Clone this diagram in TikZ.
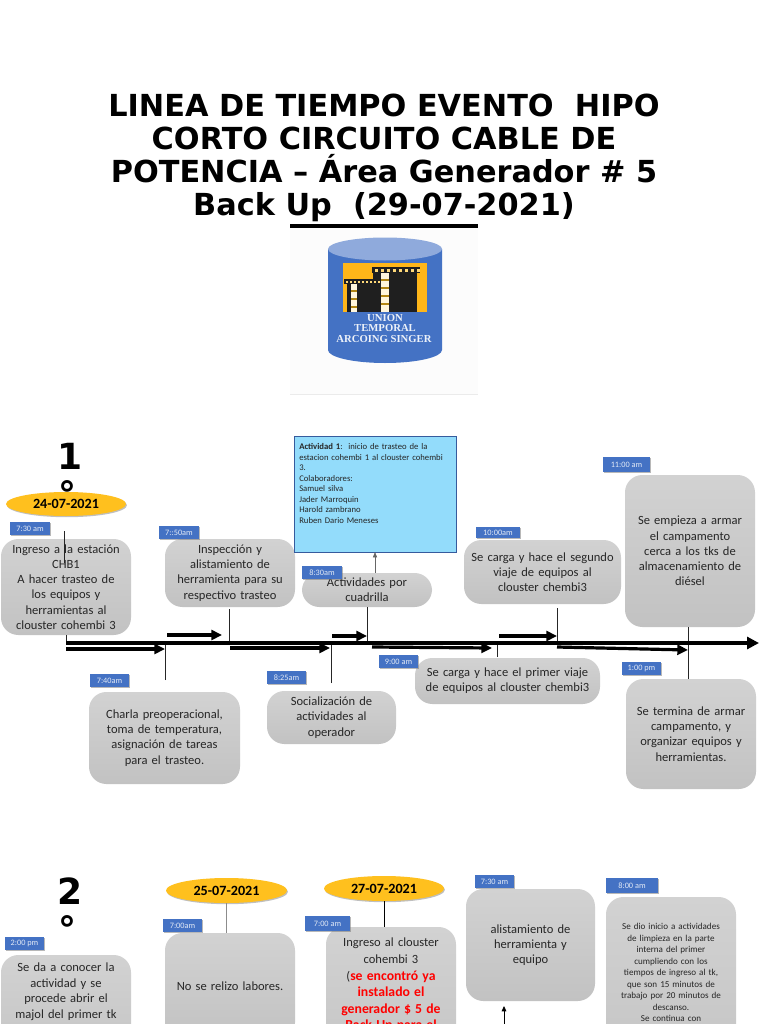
\documentclass[tikz,border=0pt]{standalone}
\usepackage{fontspec}
\setmainfont{Carlito}
\newfontfamily\titlefont{DejaVu Sans}
\newfontfamily\logofont{Liberation Serif}
\usetikzlibrary{arrows.meta,shadows,shapes.geometric}
\definecolor{tagblue}{HTML}{4472C4}
\definecolor{gtop}{HTML}{D2D2D2}
\definecolor{gbot}{HTML}{C2C2C2}
\definecolor{gold}{HTML}{FFC01E}
\definecolor{cyl}{HTML}{4472C4}
\definecolor{cyltop}{HTML}{8FAADC}
\definecolor{ink}{HTML}{262626}
\definecolor{skyfill}{HTML}{93DCFB}
\tikzset{
  gbox/.style={rounded corners=13pt,top color=gtop,bottom color=gbot,draw=none,align=center,text=ink,
    font=\fontsize{9.4}{11.4}\selectfont,inner sep=0pt},
  tag/.style={fill=tagblue,draw=none,text=white!85!tagblue,font=\fontsize{6.2}{7}\selectfont,inner sep=0pt,
    drop shadow={shadow xshift=.7pt,shadow yshift=-.7pt,fill=black!55,opacity=.5}},
  dateell/.style={ellipse,fill=gold,draw=none,font=\fontsize{10.6}{12}\selectfont\bfseries,inner sep=0pt,
    drop shadow={shadow xshift=.7pt,shadow yshift=-.9pt,fill=black!55,opacity=.45}},
  ttl/.style={anchor=base,font=\titlefont\bfseries\fontsize{22.75}{24}\selectfont,inner sep=0pt},
  num/.style={font=\titlefont\bfseries\fontsize{27}{28}\selectfont,inner sep=0pt},
  tick/.style={draw=black!85,line width=.7pt},
  axisline/.style={line width=2.6pt,-{Triangle[width=9pt,length=9pt]}},
  seg/.style={line width=2.4pt,-{Triangle[width=7.5pt,length=8pt]}},
  thinarrow/.style={draw=black!60,line width=.5pt,-{Triangle[width=3pt,length=4pt]}},
  logotxt/.style={font=\logofont\bfseries\fontsize{8}{9}\selectfont,text=white!90!cyl,inner sep=0pt},
}
\newcommand{\gb}[6]{\node[gbox,minimum width={(#4-#2)*0.75pt},minimum height={(#5-#3)*0.75pt},text width={(#4-#2-4)*0.75pt}] (#1) at ({(#2+#4)/2},{(#3+#5)/2}) {\raisebox{-1pt}{\parbox{\linewidth}{\centering #6}}};}
\newcommand{\tg}[6]{\node[tag,minimum width={(#4-#2)*0.75pt},minimum height={(#5-#3)*0.75pt}] (#1) at ({(#2+#4)/2},{(#3+#5)/2}) {#6};}
\newcommand{\dt}[6]{\node[dateell,minimum width={(#4-#2)*0.75pt},minimum height={(#5-#3)*0.75pt}] (#1) at ({(#2+#4)/2},{(#3+#5)/2}) {#6};}
\begin{document}
\begin{tikzpicture}[x=0.75pt,y=-0.75pt]
\useasboundingbox (0,0) rectangle (768,1024);
\clip (0,0) rectangle (768,1024);
\fill[white] (0,0) rectangle (768,1024);
% title
\node[ttl] (t1) at (384,116) {LINEA DE TIEMPO EVENTO\ \ HIPO};
\node[ttl] (t2) at (384,149) {CORTO CIRCUITO CABLE DE};
\node[ttl] (t3) at (384,182) {POTENCIA – Área Generador \# 5};
\node[ttl] (t4) at (384,215) {Back Up\ \ (29-07-2021)};
% logo
\fill[black!1] (290,228) rectangle (478,394);
\draw[black!8,line width=.6pt] (290,394.5) -- (478,394.5);
\draw[black,line width=2.4pt] (290,226) -- (478,226);
\fill[cyl] (328,249) -- (328,350) arc[start angle=180,end angle=0,x radius=57,y radius=13] -- (442,249) -- cycle;
\fill[cyltop] (385,249) ellipse [x radius=57,y radius=11.5];
\fill[gold!85!orange] (343,263) rectangle (427,312);
\fill[black!88] (373,273) rectangle (417,312);
\fill[black!88] (347,284) rectangle (380,312);
\fill[black!88] (372,267) rectangle (420,273);
\fill[black!88] (344,279) rectangle (380,284);
\fill[white!85!gold] (381,273) rectangle (389,312);
\fill[white!85!gold] (351,284) rectangle (357,312);
\foreach \yy in {279,287,295,303} {\fill[gold!70!black] (381,\yy) rectangle (389,\yy+1.5);}
\foreach \yy in {290,298,306} {\fill[gold!70!black] (351,\yy) rectangle (357,\yy+1.5);}
\foreach \xx in {375,381,...,417} {\fill[gold!60!white] (\xx,268.5) rectangle (\xx+3,271.5);}
\foreach \xx in {346,350,...,378} {\fill[gold!60!white] (\xx,280.5) rectangle (\xx+2,282.5);}
\node[logotxt] (lg1) at (385,318) {UNION};
\node[logotxt] (lg2) at (385,328.5) {TEMPORAL};
\node[logotxt] (lg3) at (384,339) {ARCOING SINGER};
% section 1 numbering
\node[num] (n1) at (70,456) {1};
\node[num] (n1d) at (67,494) {°};
% boxes
\gb{b1}{1}{539}{131}{635}{Ingreso a la estación\\CHB1\\A hacer trasteo de\\los equipos y\\herramientas al\\clouster cohembi 3}
\gb{b2}{165}{539}{295}{607}{Inspección y\\alistamiento de\\herramienta para su\\respectivo trasteo}
\gb{b3}{302}{573}{432}{607}{Actividades por\\cuadrilla}
\gb{b4}{464}{540}{621}{604}{Se carga y hace el segundo\\viaje de equipos al\\clouster chembi3}
\gb{b5}{625}{475}{755}{627}{Se empieza a armar\\el campamento\\cerca a los tks de\\almacenamiento de\\diésel}
\gb{b6}{89}{692}{240}{784}{Charla preoperacional,\\toma de temperatura,\\asignación de tareas\\para el trasteo.}
\gb{b7}{267}{691}{396}{744}{Socialización de\\actividades al\\operador}
\gb{b8}{415}{658}{600}{704}{Se carga y hace el primer viaje\\de equipos al clouster chembi3}
\gb{b9}{626}{679}{756}{789}{Se termina de armar\\campamento, y\\organizar equipos y\\herramientas.}
% info box
\node[rectangle,draw=tagblue!80!black,line width=.7pt,fill=skyfill,minimum width={162*0.75pt},minimum height={116*0.75pt},inner sep=0pt] (info) at (375,494) {};
\node[anchor=north west,inner sep=0pt,text width={156*0.75pt},align=left,text=ink,font=\fontsize{6.5}{7.85}\selectfont] (infot) at (299,443.5) {\textbf{Actividad 1}:\ \ inicio de trasteo de la\\estacion cohembi 1 al clouster cohembi\\3.\\Colaboradores:\\Samuel silva\\Jader Marroquin\\Harold zambrano\\Ruben Dario Meneses};
% tags
\tg{g1}{10}{522}{50}{535}{7:30 am}
\tg{g2}{159}{526}{199}{539}{7::50am}
\tg{g3}{302}{566}{342}{579}{8:30am}
\tg{g4}{476}{527}{520}{538}{10:00am}
\tg{g5}{603}{457}{650}{472}{11:00 am}
\tg{g6}{90}{674}{129}{687}{7:40am}
\tg{g7}{267}{671}{306}{684}{8:25am}
\tg{g8}{379}{655}{418}{668}{9:00 am}
\tg{g9}{622}{662}{661}{675}{1:00 pm}
\dt{d1}{6}{492}{126}{516}{24-07-2021}
% axis coordinates
\coordinate (a0) at (66,643);
\coordinate (a1) at (759,643);
\coordinate (u1) at (64,531); \coordinate (u1b) at (64,563);
\coordinate (c1) at (66,635);
\coordinate (c2) at (165,680); \coordinate (c3) at (229,609);
\coordinate (c4) at (331,683); \coordinate (c5) at (367,607);
\coordinate (c6) at (497,657); \coordinate (c7) at (557,608);
\coordinate (c8) at (688,627); \coordinate (c9) at (688,679);
% ticks
\draw[tick] (u1) -- (u1b);
\foreach \c in {c1,c2,c3,c4,c5,c6,c7,c8,c9} {\draw[tick] (\c) -- (\c |- a0);}
% arrows
\draw[axisline] (a0) -- (a1);
\coordinate (s1a) at (66,649); \coordinate (s1b) at (165,649);
\coordinate (s2a) at (167,635); \coordinate (s2b) at (222,635);
\coordinate (s3a) at (230,648); \coordinate (s3b) at (330,648);
\coordinate (s4a) at (332,636); \coordinate (s4b) at (367,636);
\coordinate (s5a) at (372,647); \coordinate (s5b) at (492,648);
\coordinate (s6a) at (499,636); \coordinate (s6b) at (557,636);
\coordinate (s7a) at (557,647); \coordinate (s7b) at (688,650);
\foreach \p/\q in {s1a/s1b,s2a/s2b,s3a/s3b,s4a/s4b,s5a/s5b,s6a/s6b,s7a/s7b} {\draw[seg] (\p) -- (\q);}
\coordinate (ar1) at (375,552);
\draw[thinarrow] (b3.north -| ar1) -- (ar1);
% section 2
\node[num] (n2) at (70,891) {2};
\node[num] (n2d) at (67,929) {°};
\dt{d2}{166}{878}{287}{903}{25-07-2021}
\dt{d3}{324}{876}{444}{901}{27-07-2021}
\gb{b10}{1}{955}{131}{1080}{}
\gb{b11}{165}{933}{295}{1040}{No se relizo labores.}
\gb{b12}{326}{927}{456}{1100}{}
\gb{b13}{466}{889}{595}{1001}{alistamiento de\\herramienta y\\equipo}
\gb{b14}{606}{897}{736}{1100}{}
\node[anchor=north,align=center,text width={126*0.75pt},text=ink,inner sep=0pt,font=\fontsize{9.4}{11.6}\selectfont] (b10t) at (66,963) {Se da a conocer la\\actividad y se\\procede abrir el\\majol del primer tk};
\node[anchor=north,align=center,text width={126*0.75pt},text=ink,inner sep=0pt,font=\fontsize{9.4}{12.4}\selectfont] (b12t) at (391,938) {Ingreso al clouster\\cohembi 3\\(\textcolor{red}{\fontsize{10.3}{12.4}\selectfont\textbf{se encontró ya}}\\\textcolor{red}{\fontsize{10.3}{12.4}\selectfont\textbf{instalado el}}\\\textcolor{red}{\fontsize{10.3}{12.4}\selectfont\textbf{generador \$ 5 de}}\\\textcolor{red}{\fontsize{10.3}{12.4}\selectfont\textbf{Back Up para el}}};
\node[anchor=north,align=center,text width={126*0.75pt},text=ink,inner sep=0pt,font=\fontsize{6.8}{8.65}\selectfont] (b14t) at (671,923) {Se dio inicio a actividades\\de limpieza en la parte\\interna del primer\\cumpliendo con los\\tiempos de ingreso al tk,\\que son 15 minutos de\\trabajo por 20 minutos de\\descanso.\\Se continua con};
\tg{g10}{5}{937}{44}{950}{2:00 pm}
\tg{g11}{163}{919}{202}{932}{7:00am}
\tg{g12}{305}{916}{350}{931}{7:00 am}
\tg{g13}{475}{875}{514}{888}{7:30 am}
\tg{g14}{606}{878}{658}{893}{8:00 am}
\draw[draw=black!45,line width=.7pt] (d2.south) -- (d2.south |- b11.north);
\draw[draw=black,line width=.7pt] (d3.south) -- (d3.south |- b12.north);
\coordinate (ar2) at (504,1006); \coordinate (ar2b) at (504,1030);
\draw[line width=.6pt,-{Triangle[width=3.5pt,length=4pt]}] (ar2b) -- (ar2);
\end{tikzpicture}
\end{document}
